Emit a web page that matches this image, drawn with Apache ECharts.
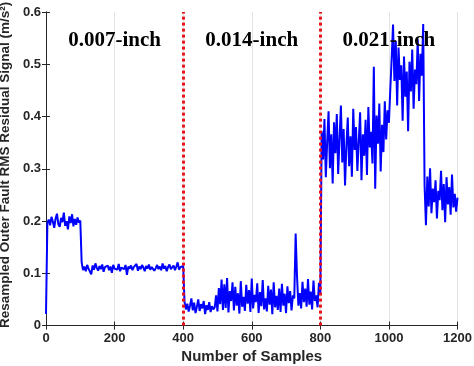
<!DOCTYPE html>
<html><head><meta charset="utf-8">
<script src="https://cdn.jsdelivr.net/npm/echarts@6/dist/echarts.min.js"></script>
<style>html,body{margin:0;padding:0;background:#fff}#c{width:474px;height:366px}</style>
</head><body><div id="c"></div>
<script>
// Sample index step between stored readings (samples 0..1200)
const sampleStep = 4;

// 0.007-inch fault: samples 0..100 (high level) and 104..400 (low level)
const signal007a = [0.022, 0.196, 0.203, 0.192, 0.208, 0.199, 0.187, 0.205, 0.214, 0.194,
  0.189, 0.206, 0.198, 0.216, 0.191, 0.2, 0.184, 0.209, 0.196, 0.213,
  0.19, 0.204, 0.193, 0.207, 0.197, 0.201];
const signal007b = [0.121, 0.106, 0.113, 0.104, 0.116, 0.109, 0.112, 0.098, 0.115, 0.107,
  0.119, 0.111, 0.105, 0.114, 0.108, 0.117, 0.103, 0.112, 0.11, 0.115,
  0.106, 0.113, 0.101, 0.116, 0.109, 0.112, 0.107, 0.118, 0.104, 0.111,
  0.114, 0.108, 0.116, 0.097, 0.113, 0.109, 0.115, 0.106, 0.112, 0.11,
  0.118, 0.105, 0.113, 0.108, 0.116, 0.111, 0.104, 0.114, 0.109, 0.117,
  0.107, 0.112, 0.115, 0.105, 0.11, 0.116, 0.108, 0.113, 0.106, 0.119,
  0.109, 0.114, 0.104, 0.112, 0.117, 0.108, 0.111, 0.115, 0.106, 0.113,
  0.121, 0.107, 0.112, 0.109, 0.114];

// 0.014-inch fault: samples 404..800
const signal014a = [0.046, 0.031, 0.042, 0.027, 0.038, 0.052, 0.029, 0.044, 0.024, 0.036,
  0.05, 0.028, 0.041, 0.033, 0.047, 0.022, 0.039, 0.03, 0.045, 0.026,
  0.037, 0.031];
const signal014b = [0.035, 0.058, 0.027, 0.072, 0.041, 0.088, 0.03, 0.079, 0.034, 0.091,
  0.025, 0.066, 0.047, 0.083, 0.029, 0.074, 0.038, 0.062, 0.023, 0.085,
  0.036, 0.055, 0.028, 0.078, 0.042, 0.068, 0.026, 0.09, 0.033, 0.059,
  0.045, 0.081, 0.024, 0.064, 0.037, 0.087, 0.031, 0.052, 0.027, 0.076,
  0.04, 0.069, 0.022, 0.083, 0.035, 0.057, 0.03, 0.071, 0.026, 0.08,
  0.038, 0.061, 0.024, 0.075, 0.043, 0.066, 0.029, 0.058];
const signal014c = [0.052, 0.176, 0.095, 0.038, 0.062, 0.033, 0.084, 0.045, 0.071, 0.036,
  0.089, 0.04, 0.065, 0.031, 0.086, 0.047, 0.058, 0.035, 0.082, 0.062];

// 0.021-inch fault: samples 804..1200
const signal021a = [0.372, 0.318, 0.395, 0.284, 0.352, 0.41, 0.301, 0.366, 0.272, 0.389,
  0.33, 0.405, 0.29, 0.358, 0.421, 0.312, 0.376, 0.268, 0.343, 0.398,
  0.305, 0.362, 0.285, 0.415, 0.336, 0.38, 0.296, 0.352, 0.408, 0.278,
  0.366, 0.325, 0.394, 0.288, 0.418, 0.341, 0.371, 0.31, 0.495, 0.262,
  0.402, 0.348, 0.425, 0.295, 0.384, 0.332, 0.429, 0.356, 0.412, 0.388];
const signal021b = [0.452, 0.51, 0.576, 0.468, 0.545, 0.421, 0.532, 0.47, 0.498, 0.392,
  0.515, 0.438, 0.486, 0.372, 0.505, 0.448, 0.528, 0.415, 0.49, 0.462,
  0.548, 0.43, 0.52, 0.478, 0.577];
const signal021c = [0.268, 0.192, 0.285, 0.228, 0.301, 0.215, 0.262, 0.236, 0.278, 0.205,
  0.258, 0.24, 0.296, 0.221, 0.271, 0.198, 0.284, 0.232, 0.265, 0.212,
  0.289, 0.226, 0.252, 0.218, 0.245];

const xMin = 0, xMax = 1200, xInterval = 200;
const yMin = 0, yMax = 0.6, yInterval = 0.1;
const faultBoundaries = [400, 800];
const faultLabels = ['0.007-inch', '0.014-inch', '0.021-inch'];
const faultLabelX = [200, 600, 1000];
const faultLabelY = 0.546;

const allValues = [].concat(signal007a, signal007b, signal014a, signal014b, signal014c,
  signal021a, signal021b, signal021c);
const seriesData = allValues.map((v, i) => [i * sampleStep, v]);

const axisColor = '#262626';
const chart = echarts.init(document.getElementById('c'), null, {renderer: 'canvas'});
chart.setOption({
  animation: false,
  grid: {left: 46, right: 16.5, top: 12, bottom: 40.4, containLabel: false, outerBoundsMode: 'none'},
  xAxis: [{
    type: 'value', min: xMin, max: xMax, interval: xInterval,
    name: 'Number of Samples', nameLocation: 'middle', nameGap: 21,
    nameTextStyle: {fontFamily: 'Liberation Sans', fontWeight: 'bold', fontSize: 15, color: axisColor},
    axisLine: {show: true, lineStyle: {color: axisColor, width: 1}},
    axisTick: {show: true, inside: true, length: 4, lineStyle: {color: axisColor}},
    axisLabel: {margin: 6, fontFamily: 'Liberation Sans', fontWeight: 'bold', fontSize: 13, color: axisColor,
      formatter: v => String(v)},
    splitLine: {show: true, lineStyle: {color: '#e3e3e3', width: 1}}
  }, {
    type: 'value', position: 'top', min: xMin, max: xMax, interval: xInterval,
    axisLine: {show: true, lineStyle: {color: axisColor, width: 1}},
    axisTick: {show: true, inside: true, length: 4, lineStyle: {color: axisColor}},
    axisLabel: {show: false}, splitLine: {show: false}
  }],
  yAxis: [{
    type: 'value', min: yMin, max: yMax, interval: yInterval,
    name: 'Resampled Outer Fault RMS Residual Signal (m/s²)',
    nameLocation: 'middle', nameGap: 24, nameRotate: 90,
    nameTextStyle: {fontFamily: 'Liberation Sans', fontWeight: 'bold', fontSize: 13.5, color: axisColor,
      padding: [0, 0, 0, 8]},
    axisLine: {show: true, lineStyle: {color: axisColor, width: 1}},
    axisTick: {show: true, inside: true, length: 4, lineStyle: {color: axisColor}},
    axisLabel: {margin: 5, fontFamily: 'Liberation Sans', fontWeight: 'bold', fontSize: 13, color: axisColor},
    splitLine: {show: false}
  }, {
    type: 'value', position: 'right', min: yMin, max: yMax, interval: yInterval,
    axisLine: {show: true, lineStyle: {color: axisColor, width: 1}},
    axisTick: {show: true, inside: true, length: 4, lineStyle: {color: axisColor}},
    axisLabel: {show: false}, splitLine: {show: false}
  }],
  series: [{
    type: 'line', data: seriesData, showSymbol: false, symbol: 'none',
    lineStyle: {color: '#0000ff', width: 2}, z: 2
  }, {
    type: 'line', data: [], z: 5,
    markLine: {
      silent: true, symbol: ['none', 'none'],
      label: {show: false},
      lineStyle: {color: '#e8141c', width: 3, type: [3, 3]},
      data: faultBoundaries.map(x => ({xAxis: x}))
    },
    markPoint: {
      silent: true, symbol: 'rect', symbolSize: 1,
      itemStyle: {color: 'rgba(0,0,0,0)'},
      label: {show: true, position: 'inside', formatter: p => p.name,
        fontFamily: 'Liberation Serif', fontWeight: 'bold', fontSize: 21, color: '#000'},
      data: faultLabels.map((t, i) => ({name: t, coord: [faultLabelX[i], faultLabelY]}))
    }
  }]
});
</script>
</body></html>
